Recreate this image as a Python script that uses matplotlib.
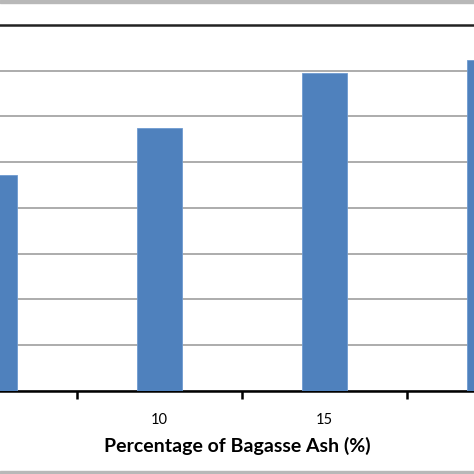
import matplotlib
matplotlib.use("Agg")
import matplotlib.pyplot as plt
from matplotlib.patches import Rectangle

# 数据（从图上读取，y 轴刻度值被裁掉，按网格单位估算）
ash_percent = ["5", "10", "15", "20"]
values = [4.72, 5.75, 6.95, 7.23]

plt.rcParams['font.family'] = ['Lato', 'DejaVu Sans']

fig = plt.figure(figsize=(4.74, 4.74), dpi=100)
ax = fig.add_axes([0.0, 0.1751, 1.0, 0.7722])

pos = list(range(len(ash_percent)))
ax.bar(pos, values, width=0.274, color="#4F81BD", edgecolor="#6F9BD0", linewidth=0.6, zorder=3)

ax.set_ylim(0, 8)
ax.set_yticks(range(0, 9))
ax.yaxis.grid(True, color="#A6A6A6", linewidth=1.3, zorder=0)
ax.tick_params(axis="y", left=False, labelleft=False)

# 类别之间的刻度线
ax.set_xticks([p + 0.5 for p in pos[:-1]])
ax.set_xticklabels([])
ax.tick_params(axis="x", direction="out", length=6, width=1.8, color="black")
ax.set_xticks(pos, minor=True)
ax.set_xticklabels(ash_percent, minor=True, fontsize=10.5)
ax.tick_params(axis="x", which="minor", length=0, pad=16)

# 图是裁剪过的：只显示 10 和 15 附近
xmin, xmax = 0.0333, 2.906
ax.set_xlim(xmin, xmax)
for p, lab in zip(pos, ax.get_xticklabels(minor=True)):
    if p < xmin or p > xmax:
        lab.set_visible(False)

for s in ["left", "right"]:
    ax.spines[s].set_visible(False)
ax.spines["bottom"].set_linewidth(1.8)
ax.spines["top"].set_linewidth(1.8)
ax.spines["top"].set_color("#222222")

ax.set_xlabel("Percentage of Bagasse Ash (%)", fontsize=14, fontweight="bold", labelpad=7)

# 外框灰边
fig.patches.append(Rectangle((0, 0.9935), 1, 0.0065, transform=fig.transFigure, color="#B8B8B8"))
fig.patches.append(Rectangle((0, 0), 1, 0.0065, transform=fig.transFigure, color="#B8B8B8"))

plt.savefig("out.png", dpi=100)
